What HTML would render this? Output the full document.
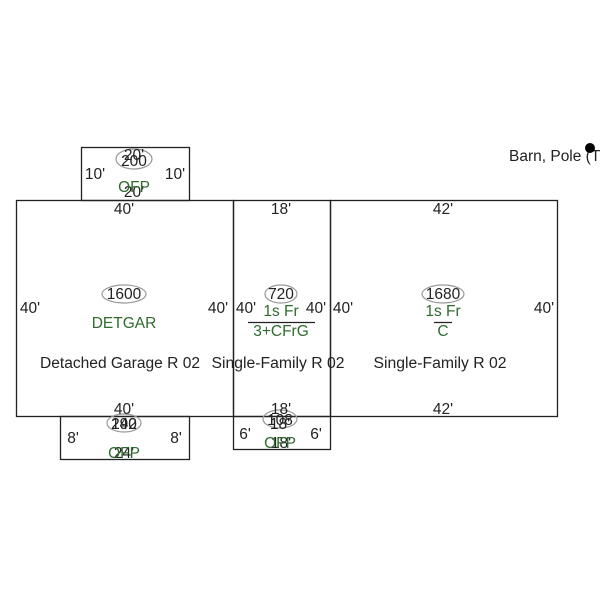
<!DOCTYPE html>
<html><head><style>body{margin:0;background:#fff}svg{display:block}text{font-family:"Liberation Sans",sans-serif;font-size:15.5px}</style></head><body>
<svg width="600" height="600" xmlns="http://www.w3.org/2000/svg">
<rect width="600" height="600" fill="#fff"/>
<g fill="none" stroke="#222" stroke-width="1.3">
<rect x="81.5" y="147.5" width="108" height="53"/>
<rect x="16.5" y="200.5" width="217" height="216"/>
<rect x="233.5" y="200.5" width="97" height="216"/>
<rect x="330.5" y="200.5" width="227" height="216"/>
<rect x="60.5" y="416.5" width="129" height="43"/>
<rect x="233.5" y="416.5" width="97" height="33"/>
<line x1="248" y1="322.5" x2="315" y2="322.5"/>
<line x1="434" y1="322.5" x2="452" y2="322.5"/>
</g>
<g fill="none" stroke="#999" stroke-width="1.2">
<ellipse cx="134" cy="159" rx="18" ry="10"/>
<ellipse cx="124" cy="294" rx="22" ry="9"/>
<ellipse cx="281" cy="294" rx="16" ry="9"/>
<ellipse cx="443" cy="294" rx="21" ry="9"/>
<ellipse cx="124" cy="423" rx="17" ry="9"/>
<ellipse cx="280" cy="419" rx="17" ry="9"/>
</g>
<g fill="#222" text-anchor="middle">
<text x="134" y="160">20'</text><text x="134" y="166">200</text><text x="134" y="197">20'</text>
<text x="95" y="179">10'</text><text x="175" y="179">10'</text>
<text x="124" y="214">40'</text><text x="281" y="214">18'</text><text x="443" y="214">42'</text>
<text x="30" y="313">40'</text><text x="218" y="313">40'</text><text x="246" y="313">40'</text><text x="316" y="313">40'</text><text x="343" y="313">40'</text><text x="544" y="313">40'</text>
<text x="124" y="299">1600</text><text x="281" y="299">720</text><text x="443" y="299">1680</text>
<text x="120" y="368" textLength="160" lengthAdjust="spacingAndGlyphs">Detached Garage R 02</text>
<text x="278" y="368" textLength="133" lengthAdjust="spacingAndGlyphs">Single-Family R 02</text>
<text x="440" y="368" textLength="133" lengthAdjust="spacingAndGlyphs">Single-Family R 02</text>
<text x="124" y="414">40'</text><text x="443" y="414">42'</text><text x="281" y="414">18'</text>
<text x="124" y="429">192</text><text x="124" y="429">240</text><text x="280" y="425">108</text><text x="280" y="429">18'</text>
<text x="73" y="443">8'</text><text x="176" y="443">8'</text><text x="245" y="439">6'</text><text x="316" y="439">6'</text>
<text x="124" y="458">24'</text><text x="281" y="448">18'</text>
<text x="509" y="161" text-anchor="start">Barn, Pole (T</text>
</g>
<g fill="#2f6b2f" text-anchor="middle">
<text x="134" y="192">OFP</text>
<text x="124" y="328">DETGAR</text>
<text x="281" y="316">1s Fr</text><text x="281" y="336">3+CFrG</text>
<text x="443" y="316">1s Fr</text><text x="443" y="336">C</text>
<text x="124" y="458">OFP</text><text x="280" y="448">OFP</text>
</g>
<circle cx="590" cy="148" r="5" fill="#000"/>
</svg>
</body></html>
